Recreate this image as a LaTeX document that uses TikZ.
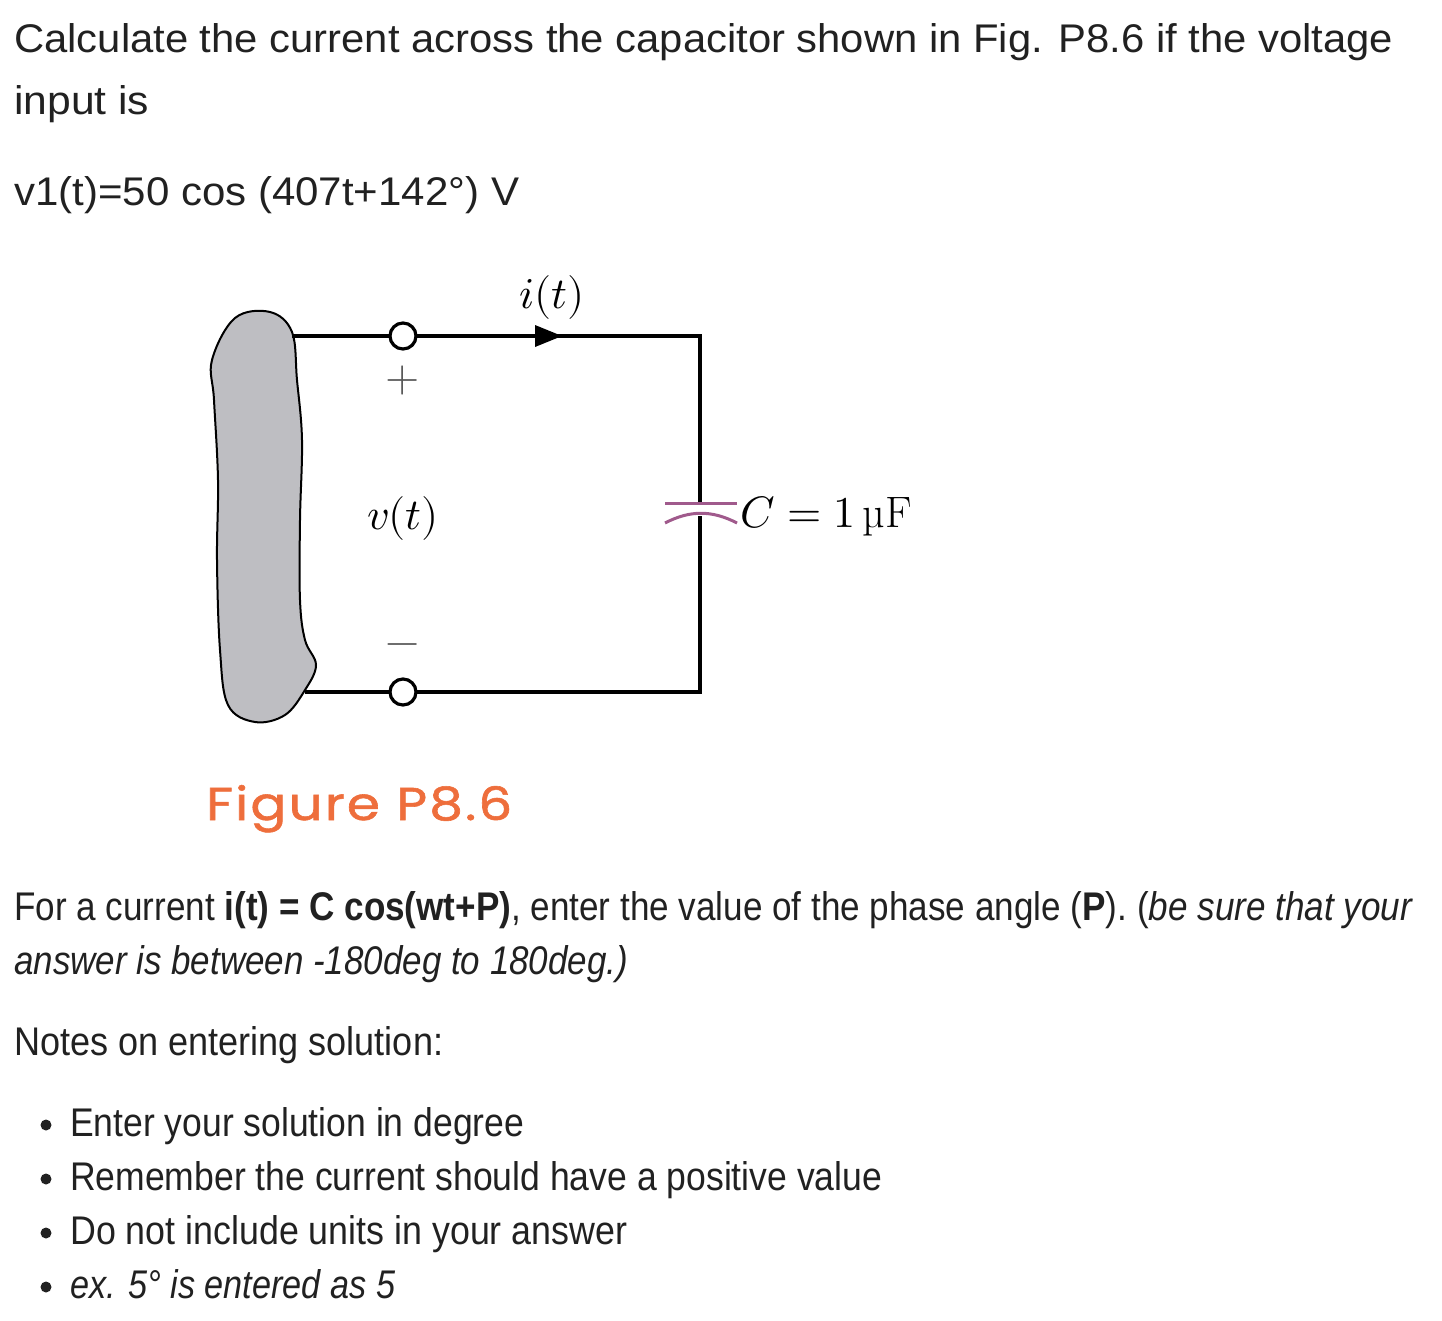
\documentclass[tikz,border=0pt]{standalone}
\usepackage{graphicx}
\usepackage{fontspec}
\usepackage{unicode-math}
\setmathfont{Latin Modern Math}
\setmainfont{Liberation Sans}
\newfontfamily\figfont[LetterSpace=4,FakeBold=1.2]{Poppins}
\newfontfamily\lmfont{Latin Modern Roman}
\definecolor{txt}{RGB}{33,33,33}
\definecolor{capc}{RGB}{160,90,140}
\definecolor{orng}{RGB}{238,110,60}
\definecolor{blobc}{RGB}{190,190,194}
\newcommand{\fitw}[2]{\resizebox{#1pt}{\height}{#2}}
\begin{document}
\begin{tikzpicture}[x=1pt,y=-1pt,
  body/.style={anchor=base west,inner sep=0pt,text=txt,font=\fontsize{40}{48}\selectfont},
  lab/.style={inner sep=0pt,font=\lmfont\fontsize{44}{48}\selectfont},
  wire/.style={line width=3.6pt},
  term/.style={circle,draw,line width=3.2pt,fill=white,minimum size=26pt,inner sep=0pt}]
\useasboundingbox (0,0) rectangle (1442,1320);
\node[body] (l1) at (14,52) {\fitw{1379}{Calculate the current across the capacitor shown in Fig. P8.6 if the voltage}};
\node[body] (l2) at (14,114) {\fitw{135}{input is}};
\node[body] (l3) at (14,205) {\fitw{505}{v1(t)=50 cos (407t+142°) V}};
% blob
\draw[fill=blobc,line width=2pt] plot[smooth cycle,tension=0.6] coordinates{
 (235,318) (270,312) (292,332) (297,380) (302,440) (300,520) (300,600) (305,640) (316,665) (305,690) (285,715) (255,722) (228,705) (220,650) (217,560) (218,480) (214,400) (212,360)};
% circuit
\coordinate (tl) at (292,336);
\coordinate (bl) at (305,692);
\coordinate (tr) at (700,336);
\coordinate (br) at (700,692);
\coordinate (ct) at (700,503);
\coordinate (cb) at (700,516);
\draw[wire] (tl) -- (tr) -- (ct);
\draw[wire] (cb) -- (br) -- (bl);
\node[term] (tp) at (403,336) {};
\node[term] (tm) at (403,692) {};
\fill (535,325) -- (562,336) -- (535,347) -- cycle;
\draw[capc,line width=3pt] (665,503) -- (737,503);
\draw[capc,line width=3pt] (665,523) .. controls (690,510) and (712,510) .. (737,523);
\node[lab,anchor=west] (cl) at (740,516) {$C = 1$\,µF};
\node[lab] (it) at (552,297) {$i(t)$};
\node[lab] (vt) at (403,518) {$v(t)$};
\node[lab,text=gray!70!black] (pl) at (403,380) {$+$};
\node[lab,text=gray!70!black] (mi) at (403,650) {$-$};
\node[anchor=base west,inner sep=0pt,text=orng,font=\figfont\fontsize{46}{50}\selectfont] (fig) at (206,820) {\fitw{306}{Figure P8.6}};
\node[body] (p1) at (14,920) {\fitw{1399}{For a current \textbf{i(t) = C cos(wt+P)}, enter the value of the phase angle (\textbf{P}). (\textit{be sure that your}}};
\node[body] (p2) at (14,974) {\fitw{614}{\textit{answer is between -180deg to 180deg.)}}};
\node[body] (n) at (14,1055) {\fitw{429}{Notes on entering solution:}};
\foreach \y/\w/\t [count=\i] in {1136/454/{Enter your solution in degree},1190/812/{Remember the current should have a positive value},1244/557/{Do not include units in your answer},1298/325/{\textit{ex. 5° is entered as 5}}}{
  \node[body] (b\i) at (70,\y) {\fitw{\w}{\t}};
  \fill[txt] (46,\y-11) circle (5.5);
}
\end{tikzpicture}
\end{document}
